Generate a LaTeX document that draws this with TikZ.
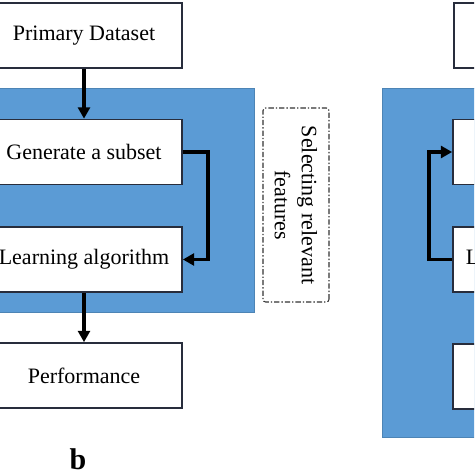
\documentclass[tikz,border=0pt]{standalone}
\usepackage{fontspec}
\setmainfont{Liberation Serif}
\usetikzlibrary{arrows.meta}

\definecolor{panelblue}{RGB}{91,155,213}
\definecolor{boxedge}{RGB}{40,45,60}

\tikzset{every picture/.style={line width=0.75pt}}
\tikzset{
  stepbox/.style={draw=boxedge, line width=1.3pt, fill=white,
                  minimum width=147pt, minimum height=48.75pt, inner sep=0pt,
                  font=\fontsize{16.5}{20.25}\selectfont},
  flow/.style={line width=2.8pt, -{Triangle[length=8.5pt,width=9pt]}},
  panel/.style={draw=panelblue!85!black, line width=0.6pt, fill=panelblue},
}

\begin{document}
\begin{tikzpicture}[x=0.75pt, y=0.75pt, yscale=-1, xscale=1]

    \useasboundingbox (0,0) rectangle (474,474);
    \clip (0,0) rectangle (474,474);

    % blue panels
    \draw [panel] (-60, 88) rectangle (254,312);
    \draw [panel] (382, 88) rectangle (560,437);

    % left diagram
    \node [stepbox] (prim)  at ( 84, 35.5) {Primary Dataset};
    \node [stepbox] (gen)   at ( 84,152.0) {Generate a subset};
    \node [stepbox] (learn) at ( 84,259.5) {Learning algorithm};
    \node [stepbox] (perf)  at ( 84,375.5) {Performance};

    \draw [flow] (prim.south)  -- (gen.north);
    \draw [flow] (learn.south) -- (perf.north);
    \draw [flow] (gen.east) -- ++(25,0) |- (learn.east);

    % selecting note
    \node [draw=black!80, line width=0.8pt, rounded corners=2pt,
           dash pattern=on 4pt off 1.5pt on 1pt off 1.5pt,
           rotate=-90, minimum width=145.5pt, minimum height=49.5pt,
           align=center, font=\fontsize{16.5}{20.25}\selectfont]
          (sel) at (296,205) {Selecting relevant\\features};

    \node [font=\fontsize{22.5}{26}\selectfont\bfseries, anchor=base]
          (lbl) at (78,469) {b};

    % right diagram
    \node [stepbox] (rtop)   at (552, 35.5) {};
    \node [stepbox] (rgen)   at (551,152.0) {};
    \node [stepbox] (rlearn) at (551,259.5) {Learning algorithm};
    \node [stepbox] (rperf)  at (551,376.5) {};

    \draw [flow] (rlearn.west) -- ++(-23,0) |- (rgen.west);

\end{tikzpicture}
\end{document}
